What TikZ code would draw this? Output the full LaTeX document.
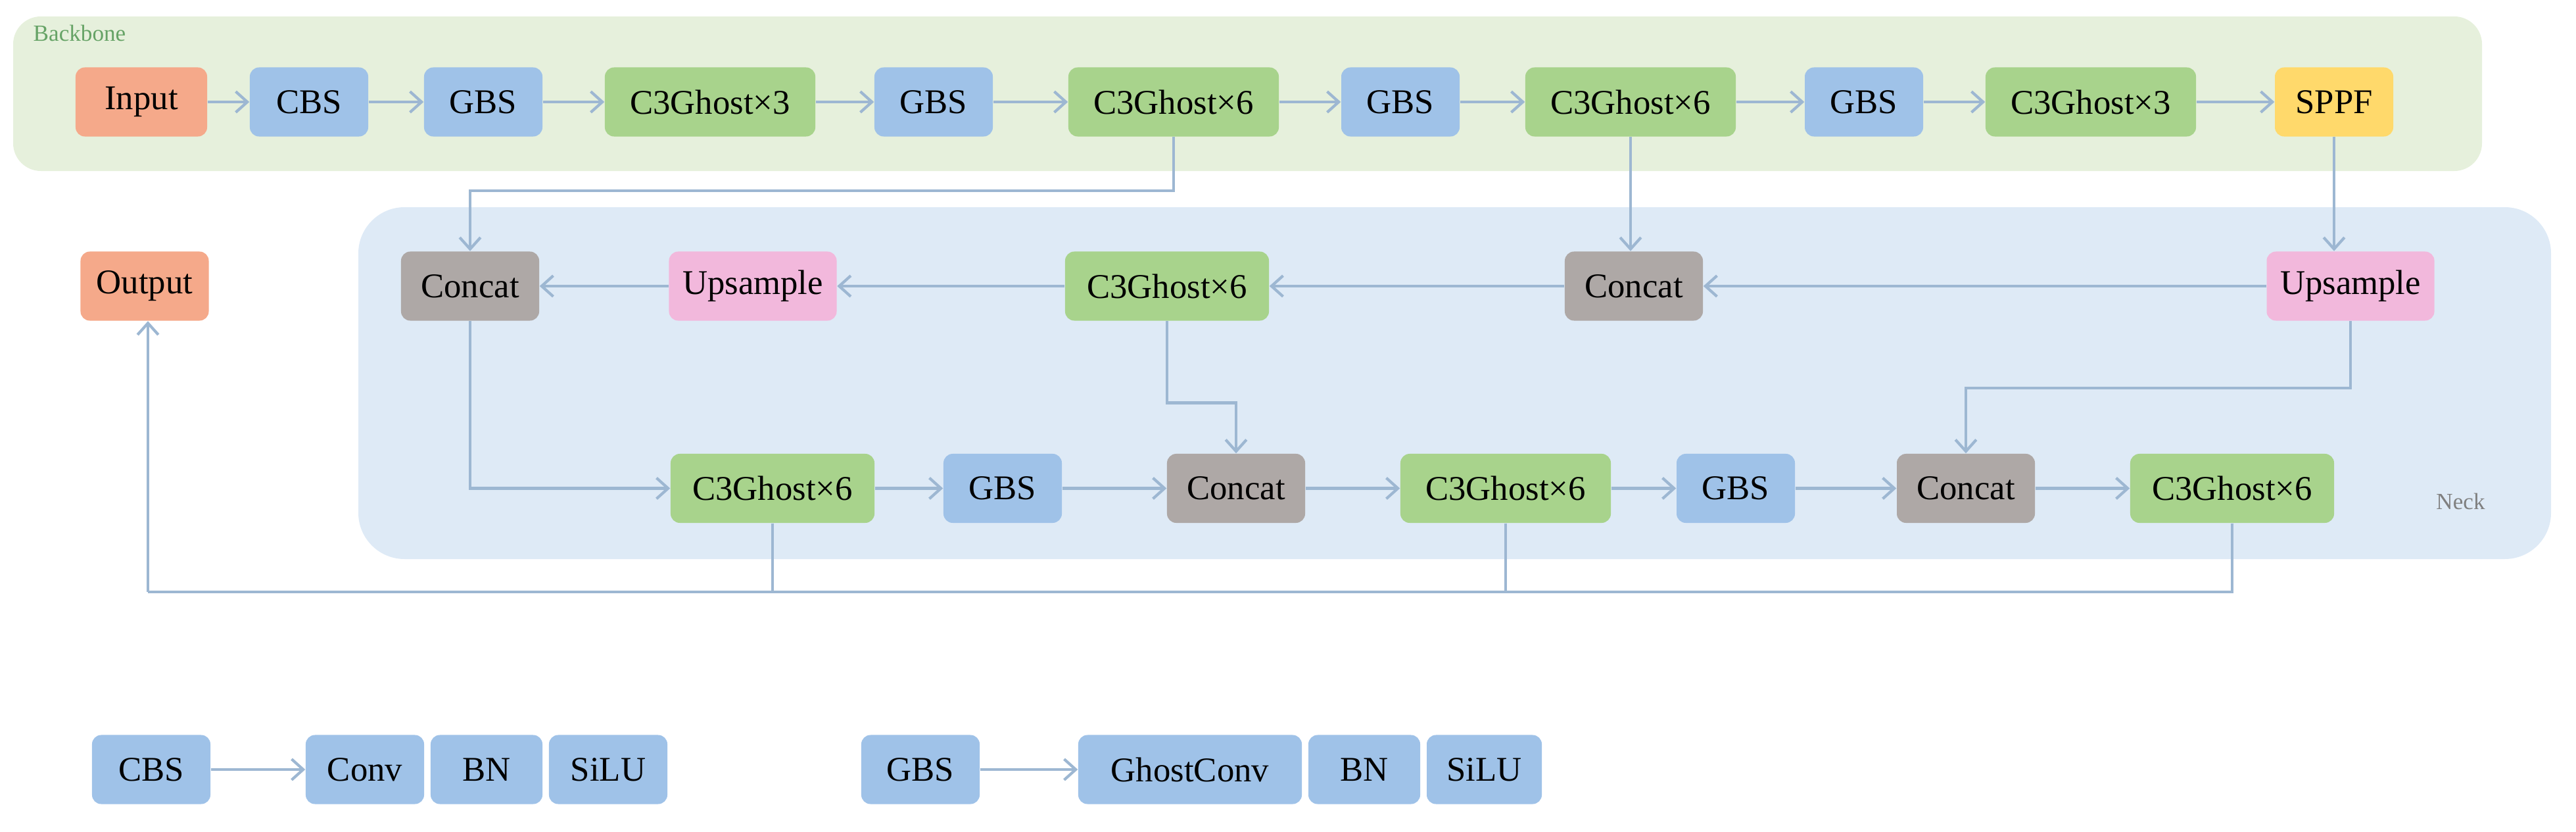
\documentclass[tikz,border=0pt]{standalone}
\usepackage{fontspec}
\setmainfont{Liberation Serif}
\usetikzlibrary{arrows.meta}
\definecolor{cin}{HTML}{F5A98A}
\definecolor{cblue}{HTML}{9FC2E8}
\definecolor{cgreen}{HTML}{A8D38C}
\definecolor{cgray}{HTML}{AEA8A6}
\definecolor{cpink}{HTML}{F2B8DC}
\definecolor{cyel}{HTML}{FFD96B}
\definecolor{bbg}{HTML}{E6F0DC}
\definecolor{nbg}{HTML}{DEEAF6}
\definecolor{cline}{HTML}{9DB7D2}
\begin{document}
\begin{tikzpicture}[x=0.025cm,y=-0.025cm]
    % Estilos
    \tikzstyle{blk}=[rectangle, rounded corners=4pt, minimum height=1.05cm, inner sep=0pt, text centered, font=\fontsize{15}{18}\selectfont]
    \tikzstyle{io}=[blk, fill=cin, minimum width=2cm]
    \tikzstyle{cbs}=[blk, fill=cblue, minimum width=1.8cm]
    \tikzstyle{ghost}=[blk, fill=cgreen, minimum width=3.2cm]
    \tikzstyle{cat}=[blk, fill=cgray, minimum width=2.1cm]
    \tikzstyle{ups}=[blk, fill=cpink, minimum width=2.55cm]
    \tikzstyle{arrow}=[-{Straight Barb[length=5pt,width=9pt]}, cline, line width=1.2pt]
    \tikzstyle{wire}=[cline, line width=1.2pt]

    \useasboundingbox (0,0) rectangle (1567.2,506);

    % Fondos
    \fill[bbg, rounded corners=12pt] (8,10) rectangle (1510,104);
    \node[anchor=north west, text=green!40!black!60, font=\fontsize{10}{12}\selectfont, inner sep=0pt] (bb) at (20,15) {Backbone};
    \fill[nbg, rounded corners=20pt] (218,126) rectangle (1552,340);
    \node[text=gray, font=\fontsize{10}{12}\selectfont, inner sep=0pt] (nk) at (1497,305) {Neck};

    % Backbone
    \node[io, minimum width=2cm] (input) at (86,62) {Input};
    \node[cbs] (cbs1) at (188,62) {CBS};
    \node[cbs] (gbs1) at (294,62) {GBS};
    \node[ghost] (c1) at (432,62) {C3Ghost×3};
    \node[cbs] (gbs2) at (568,62) {GBS};
    \node[ghost] (c2) at (714,62) {C3Ghost×6};
    \node[cbs] (gbs3) at (852,62) {GBS};
    \node[ghost] (c3) at (992,62) {C3Ghost×6};
    \node[cbs] (gbs4) at (1134,62) {GBS};
    \node[ghost] (c4) at (1272,62) {C3Ghost×3};
    \node[cbs, fill=cyel] (sppf) at (1420,62) {SPPF};

    % Neck
    \node[io, minimum width=1.95cm] (output) at (88,174) {Output};
    \node[cat] (cat1) at (286,174) {Concat};
    \node[ups] (up1) at (458,174) {Upsample};
    \node[ghost, minimum width=3.1cm] (n1) at (710,174) {C3Ghost×6};
    \node[cat] (cat2) at (994,174) {Concat};
    \node[ups] (up2) at (1430,174) {Upsample};

    \node[ghost, minimum width=3.1cm] (n2) at (470,297) {C3Ghost×6};
    \node[cbs] (gbs5) at (610,297) {GBS};
    \node[cat] (cat3) at (752,297) {Concat};
    \node[ghost, minimum width=3.2cm] (n3) at (916,297) {C3Ghost×6};
    \node[cbs] (gbs6) at (1056,297) {GBS};
    \node[cat] (cat4) at (1196,297) {Concat};
    \node[ghost, minimum width=3.1cm] (n4) at (1358,297) {C3Ghost×6};
    \coordinate (bus) at (90,360);

    % Leyenda
    \node[cbs] (lcbs) at (92,468) {CBS};
    \node[cbs] (conv) at (222,468) {Conv};
    \node[cbs, minimum width=1.7cm] (bn1) at (296,468) {BN};
    \node[cbs] (silu1) at (370,468) {SiLU};
    \node[cbs] (lgbs) at (560,468) {GBS};
    \node[cbs, minimum width=3.4cm] (gconv) at (724,468) {GhostConv};
    \node[cbs, minimum width=1.7cm] (bn2) at (830,468) {BN};
    \node[cbs, minimum width=1.75cm] (silu2) at (903,468) {SiLU};

    % Flechas
    \foreach \a/\b in {input/cbs1, cbs1/gbs1, gbs1/c1, c1/gbs2, gbs2/c2, c2/gbs3, gbs3/c3, c3/gbs4, gbs4/c4, c4/sppf,
                       up2/cat2, cat2/n1, n1/up1, up1/cat1,
                       n2/gbs5, gbs5/cat3, cat3/n3, n3/gbs6, gbs6/cat4, cat4/n4, lcbs/conv, lgbs/gconv}
        \draw[arrow] (\a) -- (\b);
    \draw[arrow] (c2.south) |- (cat1.north |- 0,116) -- (cat1.north);
    \draw[arrow] (c3.south) -- (c3.south |- cat2.north);
    \draw[arrow] (sppf.south) -- (sppf.south |- up2.north);
    \draw[arrow] (cat1.south) |- (n2.west);
    \draw[arrow] (n1.south) |- (cat3.north |- 0,245) -- (cat3.north);
    \draw[arrow] (up2.south) |- (cat4.north |- 0,236) -- (cat4.north);
    \draw[wire] (n2.south) -- (n2.south |- bus);
    \draw[wire] (n3.south) -- (n3.south |- bus);
    \draw[wire] (n4.south) |- (bus);
    \draw[arrow] (bus) -- (output.south -| bus);
\end{tikzpicture}
\end{document}
